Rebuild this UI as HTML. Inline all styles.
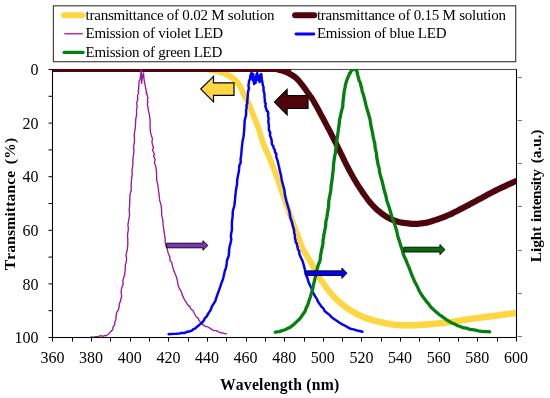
<!DOCTYPE html>
<html><head><meta charset="utf-8"><title>Spectra</title>
<style>html,body{margin:0;padding:0;background:#fff}svg{display:block}text{font-family:"Liberation Serif","Times New Roman",serif;fill:#000}</style></head><body>
<svg width="550" height="398" viewBox="0 0 550 398">
<rect width="550" height="398" fill="#fff"/>
<defs><clipPath id="pc"><rect x="52.5" y="69" width="464" height="268.5"/></clipPath></defs>
<rect x="52.5" y="69.5" width="464" height="268" fill="none" stroke="#505050" stroke-width="1.1"/>
<g clip-path="url(#pc)" fill="none" stroke-linejoin="round" stroke-linecap="round">
<g transform="scale(0.86,1)"><path d="M61.0,68.6 L74.3,68.6 L93.0,68.6 L115.3,68.6 L139.5,68.5 L164.0,68.5 L186.8,68.5 L206.4,68.6 L220.9,68.6 L230.4,68.7 L236.5,68.7 L240.0,68.8 L241.5,68.9 L242.0,69.0 L242.1,69.2 L242.5,69.3 L244.2,69.6 L246.6,69.9 L248.9,70.2 L251.0,70.6 L253.1,71.0 L255.0,71.5 L256.9,72.0 L258.7,72.5 L260.5,73.1 L262.1,73.7 L263.7,74.4 L265.2,75.1 L266.6,75.8 L268.0,76.6 L269.3,77.3 L270.5,78.1 L271.6,78.9 L272.7,79.7 L273.7,80.5 L274.6,81.3 L275.5,82.1 L276.3,82.9 L277.0,83.8 L277.8,84.7 L278.5,85.6 L279.2,86.5 L279.8,87.5 L280.3,88.5 L280.9,89.5 L281.4,90.6 L281.9,91.7 L282.5,92.8 L283.1,93.9 L283.8,95.0 L284.6,96.2 L285.3,97.4 L286.1,98.6 L286.9,99.9 L287.7,101.2 L288.4,102.5 L289.2,103.8 L289.9,105.2 L290.6,106.5 L291.3,108.0 L291.9,109.4 L292.6,110.9 L293.3,112.3 L293.9,113.9 L294.7,115.4 L295.4,117.0 L296.1,118.6 L296.9,120.2 L297.7,121.8 L298.4,123.5 L299.2,125.2 L300.0,126.9 L300.7,128.7 L301.4,130.5 L302.1,132.4 L302.8,134.3 L303.5,136.2 L304.1,138.2 L304.8,140.1 L305.6,142.1 L306.4,144.0 L307.3,145.9 L308.2,147.8 L309.1,149.7 L310.1,151.5 L311.1,153.4 L312.0,155.3 L313.0,157.3 L314.0,159.2 L314.9,161.1 L315.7,163.0 L316.6,164.8 L317.4,166.7 L318.3,168.6 L319.2,170.7 L320.2,172.9 L321.3,175.4 L322.4,178.1 L323.7,181.1 L324.9,184.3 L326.3,187.6 L327.6,190.9 L329.0,194.3 L330.3,197.7 L331.6,200.9 L332.9,204.2 L334.3,207.5 L335.7,210.9 L337.0,214.3 L338.4,217.6 L339.7,220.8 L340.9,223.7 L342.0,226.3 L343.0,228.6 L343.9,230.7 L344.8,232.5 L345.6,234.2 L346.3,235.7 L347.0,237.2 L347.7,238.6 L348.4,240.0 L349.0,241.3 L349.4,242.6 L349.8,243.7 L350.2,244.7 L350.6,245.8 L351.1,246.8 L351.6,248.0 L352.3,249.2 L353.1,250.5 L354.0,251.8 L354.9,253.2 L355.9,254.6 L357.0,256.0 L358.1,257.6 L359.3,259.3 L360.6,261.1 L361.9,263.1 L363.3,265.3 L364.8,267.6 L366.3,270.0 L367.9,272.5 L369.5,274.9 L371.2,277.3 L372.9,279.6 L374.7,281.8 L376.5,284.1 L378.3,286.3 L380.2,288.5 L382.1,290.6 L384.1,292.7 L386.2,294.8 L388.3,296.7 L390.4,298.6 L392.6,300.4 L394.9,302.2 L397.3,303.9 L399.6,305.5 L402.0,307.1 L404.3,308.5 L406.6,309.9 L408.9,311.2 L411.2,312.3 L413.5,313.4 L415.8,314.4 L418.1,315.3 L420.4,316.2 L422.7,317.0 L425.0,317.8 L427.3,318.5 L429.7,319.2 L432.1,319.8 L434.4,320.4 L436.8,320.9 L439.1,321.4 L441.3,321.9 L443.5,322.3 L445.5,322.7 L447.5,323.1 L449.3,323.4 L451.1,323.7 L453.0,324.0 L454.8,324.3 L456.7,324.5 L458.6,324.7 L460.6,324.9 L462.7,325.0 L464.8,325.1 L466.9,325.2 L469.1,325.2 L471.2,325.3 L473.4,325.3 L475.5,325.3 L477.6,325.3 L479.7,325.2 L481.8,325.2 L483.8,325.1 L485.9,325.0 L488.0,324.9 L490.1,324.8 L492.2,324.7 L494.3,324.6 L496.4,324.5 L498.5,324.3 L500.6,324.2 L502.7,324.0 L504.8,323.8 L506.9,323.7 L509.0,323.5 L511.1,323.3 L513.2,323.1 L515.3,322.9 L517.4,322.7 L519.5,322.5 L521.6,322.3 L523.7,322.0 L525.8,321.8 L527.9,321.5 L530.0,321.3 L532.1,321.0 L534.2,320.7 L536.3,320.4 L538.4,320.1 L540.5,319.8 L542.6,319.5 L544.7,319.2 L546.7,319.0 L548.8,318.7 L550.9,318.5 L553.0,318.2 L555.1,318.0 L557.2,317.7 L559.3,317.5 L561.4,317.3 L563.3,317.1 L565.3,316.9 L567.3,316.7 L569.3,316.4 L571.5,316.2 L573.7,316.0 L576.2,315.7 L579.0,315.4 L582.2,315.0 L585.6,314.6 L589.1,314.2 L592.5,313.8 L595.6,313.4 L598.1,313.1 L600.0,312.9" stroke="#FDD641" stroke-width="6.6"/></g>
<g transform="scale(0.93,1)"><path d="M56.5,69.0 L76.0,69.0 L103.8,69.0 L136.9,69.0 L172.8,69.0 L208.8,69.0 L242.2,69.0 L270.3,69.0 L290.3,69.0 L302.2,69.0 L308.4,69.1 L310.1,69.1 L308.8,69.2 L305.8,69.3 L302.2,69.4 L299.5,69.5 L298.9,69.6 L299.8,69.7 L300.7,69.9 L301.6,70.1 L302.4,70.3 L303.1,70.5 L303.9,70.7 L304.6,71.0 L305.4,71.2 L306.1,71.4 L306.7,71.6 L307.3,71.8 L307.9,72.0 L308.5,72.3 L309.2,72.6 L309.9,72.9 L310.6,73.3 L311.5,73.8 L312.4,74.2 L313.4,74.8 L314.5,75.4 L315.5,76.0 L316.5,76.6 L317.5,77.3 L318.5,78.1 L319.4,78.9 L320.3,79.8 L321.3,80.7 L322.2,81.7 L323.0,82.7 L323.9,83.7 L324.8,84.7 L325.6,85.7 L326.4,86.7 L327.2,87.7 L327.9,88.6 L328.7,89.6 L329.4,90.6 L330.1,91.6 L330.9,92.6 L331.6,93.6 L332.3,94.5 L333.0,95.4 L333.6,96.2 L334.3,97.0 L335.0,97.9 L335.7,98.9 L336.5,100.1 L337.4,101.5 L338.4,103.2 L339.6,105.0 L340.8,107.0 L342.0,109.2 L343.3,111.4 L344.6,113.7 L345.9,116.0 L347.2,118.2 L348.5,120.4 L349.8,122.7 L351.1,125.0 L352.4,127.4 L353.8,129.7 L355.1,132.0 L356.3,134.3 L357.5,136.5 L358.7,138.6 L359.8,140.7 L360.9,142.7 L362.0,144.7 L363.0,146.7 L364.1,148.6 L365.1,150.5 L366.1,152.5 L367.1,154.4 L368.1,156.3 L369.1,158.2 L370.0,160.0 L371.0,161.9 L372.0,163.8 L373.1,165.8 L374.2,167.8 L375.4,169.9 L376.7,172.1 L378.0,174.3 L379.3,176.5 L380.7,178.8 L382.2,181.1 L383.6,183.4 L385.2,185.6 L386.7,187.9 L388.4,190.2 L390.1,192.6 L391.8,194.9 L393.6,197.2 L395.3,199.4 L397.1,201.5 L398.8,203.4 L400.5,205.2 L402.2,206.8 L403.9,208.4 L405.6,209.9 L407.4,211.2 L409.1,212.5 L410.8,213.8 L412.5,214.9 L414.2,216.0 L415.8,216.9 L417.5,217.8 L419.1,218.6 L420.8,219.3 L422.5,220.0 L424.3,220.6 L426.1,221.2 L428.1,221.7 L430.2,222.2 L432.4,222.6 L434.6,222.9 L436.8,223.2 L438.8,223.4 L440.8,223.6 L442.6,223.8 L444.2,223.9 L445.6,223.9 L446.9,223.9 L448.1,223.9 L449.2,223.8 L450.3,223.7 L451.5,223.5 L452.7,223.4 L453.9,223.3 L454.9,223.2 L456.0,223.0 L457.0,222.9 L458.2,222.7 L459.4,222.4 L460.8,222.1 L462.4,221.7 L464.2,221.2 L466.3,220.6 L468.5,219.9 L470.8,219.2 L473.2,218.4 L475.6,217.6 L477.9,216.8 L480.2,215.9 L482.4,215.0 L484.7,214.1 L486.9,213.1 L489.1,212.0 L491.4,211.0 L493.6,209.9 L495.8,208.9 L498.1,207.8 L500.3,206.7 L502.5,205.6 L504.7,204.6 L506.9,203.4 L509.2,202.3 L511.4,201.2 L513.6,200.1 L515.8,199.0 L518.0,197.9 L520.2,196.8 L522.3,195.7 L524.5,194.6 L526.7,193.5 L528.9,192.4 L531.2,191.3 L533.7,190.2 L536.3,189.0 L539.3,187.7 L542.5,186.3 L545.6,184.9 L548.7,183.7 L551.4,182.5 L553.7,181.5 L555.4,180.8" stroke="#4E060C" stroke-width="6.2"/></g>
<path d="M91.1,336.8 L92.2,337.0 L94.3,337.1 L95.5,336.7 L97.9,336.7 L99.6,336.0 L101.1,335.7 L102.8,336.3 L104.6,335.5 L106.1,335.8 L107.6,334.7 L108.8,333.7 L110.4,331.9 L111.0,331.5 L112.9,329.2 L112.9,327.4 L114.6,324.7 L115.0,321.7 L115.9,319.4 L116.1,315.8 L116.8,312.1 L118.3,309.9 L119.2,306.7 L119.2,304.0 L120.3,301.6 L121.2,298.0 L121.7,295.8 L121.1,292.5 L121.5,288.9 L122.0,287.0 L123.3,283.8 L122.8,281.4 L123.6,277.6 L124.8,274.8 L124.7,272.8 L125.3,269.3 L125.3,265.1 L126.1,262.4 L126.6,258.6 L126.0,254.8 L127.2,250.3 L127.8,244.9 L127.8,239.8 L127.5,234.7 L128.4,229.5 L127.9,224.7 L128.7,220.4 L129.6,215.0 L129.2,210.1 L129.6,205.4 L129.8,199.5 L130.0,194.7 L131.2,190.1 L131.1,185.6 L131.5,180.1 L132.2,174.4 L132.0,170.2 L133.0,164.2 L132.8,159.6 L133.6,154.2 L134.0,150.4 L133.5,146.8 L134.1,143.8 L134.5,140.8 L134.4,138.0 L134.2,134.5 L135.0,129.9 L135.5,124.6 L135.7,119.3 L136.6,114.6 L136.5,110.1 L137.2,106.1 L136.5,103.4 L136.8,102.2 L137.8,99.7 L137.6,97.1 L137.5,95.0 L138.6,93.3 L138.1,90.6 L138.8,89.3 L138.6,88.0 L139.1,81.1 L139.9,80.0 L140.5,76.0 L141.4,68.8 L141.6,83.4 L142.3,78.0 L143.5,72.9 L144.0,79.0 L145.0,84.7 L146.4,92.0 L145.9,93.0 L147.1,93.5 L146.8,94.5 L147.4,96.2 L148.0,98.0 L147.5,99.6 L147.7,101.9 L147.3,104.6 L147.8,106.2 L148.5,110.8 L149.3,114.4 L150.1,119.9 L150.1,125.9 L150.3,131.2 L151.2,134.9 L152.5,139.3 L151.9,141.6 L152.5,144.8 L153.5,148.0 L152.5,149.9 L153.6,152.4 L154.4,154.4 L153.6,156.3 L154.4,158.1 L155.2,159.3 L154.4,162.4 L155.3,165.1 L156.0,167.4 L156.4,171.3 L156.6,175.2 L156.7,179.8 L157.8,184.9 L158.3,189.0 L159.1,194.5 L159.6,200.2 L161.0,204.6 L161.6,209.8 L161.7,215.4 L162.8,219.8 L163.1,225.4 L163.9,229.9 L164.2,233.0 L165.1,237.8 L165.2,242.1 L166.0,246.2 L167.3,248.9 L168.0,252.4 L169.8,256.9 L170.0,260.4 L171.9,262.9 L172.6,266.7 L173.8,270.6 L175.3,274.2 L176.4,276.8 L177.4,280.9 L178.0,284.8 L179.2,288.2 L181.2,291.3 L182.1,294.6 L183.6,297.9 L185.2,301.0 L186.2,301.9 L186.7,303.5 L188.4,305.6 L190.1,306.9 L190.9,308.9 L193.1,310.7 L194.3,313.3 L195.5,315.5 L196.4,317.0 L198.4,318.4 L199.1,320.6 L201.0,322.8 L203.1,324.9 L205.4,326.5 L207.2,326.7 L209.1,327.5 L211.8,329.6 L214.2,330.6 L216.4,330.7 L218.4,331.9 L221.0,332.8 L223.2,333.0 L225.4,333.9 L226.3,333.7" stroke="#9C189C" stroke-width="1.35"/>
<path d="M168.7,334.3 L170.5,333.9 L172.8,333.9 L176.3,333.8 L179.2,333.6 L181.7,332.8 L183.6,333.1 L185.2,332.7 L187.2,331.6 L188.4,331.9 L189.8,331.2 L191.5,330.7 L192.6,329.9 L193.4,328.9 L195.0,328.8 L196.1,327.4 L198.3,325.8 L200.1,324.2 L201.5,323.1 L203.7,320.6 L204.7,318.5 L206.9,316.1 L208.3,313.4 L210.5,310.2 L211.8,306.7 L213.4,304.1 L215.3,301.1 L216.1,298.3 L217.1,295.5 L218.3,292.2 L219.4,289.2 L220.5,286.2 L221.2,283.6 L222.5,280.5 L223.2,278.1 L224.0,274.7 L224.8,271.1 L226.1,267.3 L226.7,263.7 L227.0,260.2 L228.2,257.3 L228.9,255.2 L228.7,253.5 L229.3,252.4 L228.9,251.1 L229.4,248.5 L229.5,247.0 L229.8,245.8 L230.5,243.6 L230.6,242.5 L231.3,239.7 L231.1,238.0 L230.8,235.6 L231.3,233.1 L232.0,229.4 L231.9,226.0 L231.9,222.2 L232.6,216.6 L232.8,211.2 L234.3,206.0 L234.9,201.0 L235.4,195.2 L236.0,189.8 L237.0,184.5 L237.2,179.8 L238.0,175.6 L238.8,171.4 L239.1,168.9 L239.3,165.6 L240.7,162.8 L240.6,159.0 L241.2,155.2 L241.5,151.1 L242.0,145.9 L242.6,140.9 L243.6,136.2 L244.1,131.1 L244.4,125.7 L244.7,120.2 L246.1,114.7 L246.1,110.6 L246.7,107.6 L246.4,105.5 L247.3,103.5 L247.2,101.5 L247.5,99.0 L247.7,96.8 L247.9,93.3 L248.3,90.6 L249.0,88.1 L248.4,85.8 L248.9,83.0 L249.0,81.2 L250.0,78.8 L250.3,77.4 L250.3,76.0 L251.5,73.0 L252.6,80.0 L253.2,74.0 L254.0,84.0 L254.8,78.0 L255.6,83.0 L256.4,75.0 L257.2,73.0 L258.0,80.0 L258.8,76.0 L259.6,82.0 L260.4,75.0 L261.2,74.0 L262.0,80.0 L262.9,85.4 L263.6,87.3 L263.5,90.1 L264.4,93.8 L264.5,97.1 L264.9,100.1 L264.8,102.1 L265.9,103.9 L265.2,105.8 L265.8,107.4 L266.3,109.4 L267.0,110.7 L266.8,111.2 L267.9,111.5 L268.3,113.3 L267.9,115.2 L268.6,118.3 L268.3,121.6 L268.9,125.4 L268.9,129.9 L270.2,132.6 L270.0,135.7 L271.0,137.8 L271.3,139.1 L271.8,141.2 L271.7,142.2 L272.1,144.7 L273.3,146.0 L273.5,147.9 L274.7,149.6 L274.9,151.5 L275.5,153.0 L276.3,153.5 L276.3,154.9 L276.3,157.1 L276.9,158.7 L277.9,161.9 L278.5,164.7 L279.3,168.0 L279.9,171.4 L281.0,175.2 L281.8,180.4 L283.1,185.2 L284.4,189.8 L285.0,195.3 L286.4,201.0 L287.8,206.0 L289.4,211.5 L290.3,217.3 L291.9,221.8 L293.0,226.7 L294.1,230.1 L294.1,232.9 L294.9,235.1 L294.8,237.6 L295.6,240.3 L295.8,242.6 L296.9,243.4 L296.9,245.2 L297.7,247.5 L297.9,249.5 L299.1,250.8 L299.3,253.7 L300.1,255.8 L301.2,258.3 L302.5,260.9 L303.7,264.8 L304.8,269.1 L305.6,274.1 L307.5,278.1 L308.5,282.0 L310.3,286.0 L311.8,289.0 L312.7,291.9 L314.1,294.4 L315.0,296.3 L316.9,298.9 L318.0,301.8 L320.0,304.4 L321.4,306.7 L323.6,308.7 L324.8,311.3 L326.8,312.7 L329.5,314.9 L331.6,317.1 L334.0,319.0 L336.7,320.8 L338.9,322.3 L341.9,324.2 L344.3,325.3 L347.5,327.1 L350.4,328.8 L353.5,329.4 L357.1,330.5 L360.7,331.3 L362.4,331.8" stroke="#0000FF" stroke-width="2.45"/>
<path d="M275.3,332.3 L276.7,331.8 L279.2,331.6 L281.4,330.9 L284.4,330.0 L286.4,329.1 L288.4,328.0 L290.4,327.2 L292.0,325.8 L293.7,324.6 L295.4,322.9 L297.3,321.1 L299.6,319.0 L301.3,316.8 L303.0,314.2 L305.1,311.3 L306.3,307.8 L307.8,304.7 L309.0,300.8 L310.4,296.8 L311.5,292.9 L312.7,288.7 L313.6,284.1 L314.7,280.0 L315.6,275.9 L316.6,271.9 L317.4,268.0 L318.3,264.7 L319.5,262.1 L320.3,259.1 L320.5,255.9 L321.1,252.7 L321.7,249.2 L322.5,246.3 L323.0,242.9 L323.0,239.8 L323.8,237.3 L323.8,234.7 L324.4,232.7 L324.9,229.6 L325.6,226.4 L325.8,222.0 L326.9,217.1 L327.7,211.7 L328.6,206.4 L328.8,200.8 L329.8,195.7 L330.8,190.2 L331.2,185.1 L332.1,179.8 L332.5,175.6 L333.1,171.3 L333.4,168.0 L333.5,165.0 L333.9,161.8 L334.3,158.8 L334.7,156.2 L335.4,153.1 L335.6,150.2 L336.1,147.5 L336.3,144.0 L336.9,140.3 L337.5,136.3 L338.1,131.9 L338.7,127.5 L339.3,123.3 L339.5,119.9 L340.4,116.5 L341.0,113.1 L342.0,109.4 L342.8,106.1 L342.9,102.5 L343.4,98.1 L343.9,94.2 L344.3,90.6 L345.1,87.4 L345.4,84.9 L346.2,82.2 L346.8,80.3 L347.6,78.2 L348.4,76.4 L349.1,74.8 L349.4,73.5 L350.5,72.6 L350.9,71.4 L351.4,70.6 L352.0,70.1 L352.4,70.0 L353.0,69.6 L353.0,69.4 L353.1,69.4 L354.0,69.2 L353.9,69.3 L354.5,69.5 L355.0,69.3 L355.2,69.5 L355.5,69.4 L356.0,69.8 L355.9,70.0 L356.5,70.4 L356.8,71.5 L357.3,72.2 L357.5,73.2 L357.3,73.8 L357.6,75.1 L358.1,76.6 L358.6,77.7 L358.8,79.4 L359.3,81.0 L360.1,82.1 L360.7,84.1 L360.9,86.0 L361.7,87.7 L361.9,89.7 L362.3,91.8 L363.1,93.8 L363.7,95.9 L364.4,98.5 L365.0,101.0 L365.5,102.9 L366.2,106.2 L367.0,109.1 L368.0,112.2 L369.0,115.8 L370.1,119.8 L370.6,123.4 L371.3,127.5 L372.3,131.7 L373.1,136.3 L373.9,140.2 L374.9,143.9 L375.1,147.6 L375.8,150.7 L376.5,153.4 L376.6,156.0 L377.1,159.4 L377.7,162.2 L378.2,165.3 L379.2,168.3 L379.5,171.6 L380.4,175.5 L381.8,180.1 L383.0,184.9 L384.2,190.3 L385.8,195.4 L386.8,200.8 L388.8,206.2 L390.2,211.0 L391.8,216.5 L393.7,221.6 L395.2,226.1 L396.8,231.3 L397.7,235.9 L399.3,240.8 L400.5,244.9 L402.0,249.3 L403.1,253.4 L404.4,256.8 L406.1,260.3 L407.4,263.9 L409.1,267.6 L410.3,270.9 L411.7,274.8 L413.2,278.0 L414.6,281.7 L416.4,284.7 L417.9,287.9 L419.4,291.2 L420.9,293.8 L422.9,296.7 L424.8,299.2 L426.7,301.8 L428.8,304.0 L430.4,306.6 L432.6,308.7 L434.8,310.7 L436.9,312.6 L439.1,314.5 L441.5,316.1 L443.9,317.8 L446.3,319.7 L448.9,321.3 L451.8,322.9 L454.7,324.1 L457.8,325.7 L460.9,326.7 L463.8,327.9 L466.9,328.2 L469.5,329.3 L472.4,329.7 L475.4,330.2 L478.5,330.8 L481.8,331.3 L485.0,331.6 L487.8,331.6 L489.7,331.9" stroke="#058010" stroke-width="3.3"/>
</g>
<g stroke="#000" stroke-width="1" fill="none">
<path d="M52.5,69.5 V337.5 H516.5"/>
<path d="M516.5,69.5 V337.5"/>
<path d="M48.5,69.5 H52.5 M48.5,96.3 H52.5 M48.5,123.1 H52.5 M48.5,149.9 H52.5 M48.5,176.7 H52.5 M48.5,203.5 H52.5 M48.5,230.3 H52.5 M48.5,257.1 H52.5 M48.5,283.9 H52.5 M48.5,310.7 H52.5 M48.5,337.5 H52.5 M52.5,337.5 V341.5 M72.5,337.5 V341.5 M91.5,337.5 V341.5 M110.5,337.5 V341.5 M130.5,337.5 V341.5 M149.5,337.5 V341.5 M168.5,337.5 V341.5 M188.5,337.5 V341.5 M207.5,337.5 V341.5 M226.5,337.5 V341.5 M246.5,337.5 V341.5 M265.5,337.5 V341.5 M284.5,337.5 V341.5 M304.5,337.5 V341.5 M323.5,337.5 V341.5 M342.5,337.5 V341.5 M361.5,337.5 V341.5 M381.5,337.5 V341.5 M400.5,337.5 V341.5 M419.5,337.5 V341.5 M439.5,337.5 V341.5 M458.5,337.5 V341.5 M477.5,337.5 V341.5 M497.5,337.5 V341.5 M516.5,337.5 V341.5"/>
<path d="M517.5,77.5 H522 M517.5,120.5 H522 M517.5,163.5 H522 M517.5,206.5 H522 M517.5,250.5 H522 M517.5,293.5 H522 M517.5,336.5 H522" stroke="#777"/>
</g>
<g font-size="16" text-anchor="end">
<text x="38.6" y="75.1">0</text>
<text x="38.6" y="128.7">20</text>
<text x="38.6" y="182.3">40</text>
<text x="38.6" y="235.9">60</text>
<text x="38.6" y="289.5">80</text>
<text x="38.6" y="343.1">100</text>
</g>
<g font-size="16" text-anchor="middle">
<text x="52.5" y="362.6">360</text>
<text x="91.1" y="362.6">380</text>
<text x="129.7" y="362.6">400</text>
<text x="168.4" y="362.6">420</text>
<text x="207.0" y="362.6">440</text>
<text x="245.6" y="362.6">460</text>
<text x="284.2" y="362.6">480</text>
<text x="322.8" y="362.6">500</text>
<text x="361.5" y="362.6">520</text>
<text x="400.1" y="362.6">540</text>
<text x="438.7" y="362.6">560</text>
<text x="477.3" y="362.6">580</text>
<text x="515.9" y="362.6">600</text>
</g>
<text x="219.9" y="390.1" font-size="15.7" font-weight="bold" style="font-kerning:none" textLength="119.3" lengthAdjust="spacing">Wavelength (nm)</text>
<text transform="translate(15.3,270.3) rotate(-90)" font-size="15.6" font-weight="bold" style="font-kerning:none"><tspan x="0" textLength="99.6" lengthAdjust="spacing">Transmittance</tspan><tspan x="106.1" textLength="26.4" lengthAdjust="spacing">(%)</tspan></text>
<text transform="translate(540.8,262.3) rotate(-90)" font-size="15.4" font-weight="bold" style="font-kerning:none"><tspan x="0" textLength="35.8" lengthAdjust="spacing">Light</tspan><tspan x="40.4" textLength="52.9" lengthAdjust="spacing">intensity</tspan><tspan x="99" textLength="33.6" lengthAdjust="spacing">(a.u.)</tspan></text>
<rect x="53.4" y="5.8" width="462.3" height="55.9" fill="#fff" stroke="#444" stroke-width="1.2"/>
<g stroke-linecap="round" fill="none">
<path d="M64.2,15.3 H82.1" stroke="#FDD641" stroke-width="6"/>
<path d="M64.3,33.7 H82.8" stroke="#A838B0" stroke-width="1.6" stroke-linecap="butt"/>
<path d="M64.2,52.4 H83" stroke="#058010" stroke-width="3.3"/>
<path d="M295.1,15.2 H314.2" stroke="#4E060C" stroke-width="6"/>
<path d="M296,34 H313.9" stroke="#0000FF" stroke-width="2.8"/>
</g>
<g font-size="15" lengthAdjust="spacing">
<text x="85.5" y="20" textLength="189.0">transmittance of 0.02 M solution</text>
<text x="85.5" y="38.2" textLength="137.7">Emission of violet LED</text>
<text x="85.5" y="57" textLength="136.8">Emission of green LED</text>
<text x="316.9" y="20" textLength="189.0">transmittance of 0.15 M solution</text>
<text x="316.9" y="38.2" textLength="129.6">Emission of blue LED</text>
</g>
<g stroke="#000" stroke-width="1.2" stroke-linejoin="miter">
<path d="M234,82.89999999999999 L213.5,82.89999999999999 L213.5,76.39999999999999 L200.8,89.1 L213.5,101.8 L213.5,95.3 L234,95.3 Z" fill="#FDD641"/>
<path d="M308,95.69999999999999 L287.1,95.69999999999999 L287.1,89.39999999999999 L274.4,102.1 L287.1,114.8 L287.1,108.5 L308,108.5 Z" fill="#4E060C"/>
</g><g stroke="#000" stroke-width="0.9" stroke-linejoin="miter">
<path d="M166.6,243.2 L202.9,243.2 L202.9,240.7 L207.9,245.5 L202.9,250.3 L202.9,247.8 L166.6,247.8 Z" fill="#7B35B5"/>
<path d="M306.4,270.84999999999997 L341.9,270.84999999999997 L341.9,268.0 L347.0,273.2 L341.9,278.4 L341.9,275.55 L306.4,275.55 Z" fill="#0000FF"/>
<path d="M403.8,247.2 L439.9,247.2 L439.9,244.5 L445.0,249.6 L439.9,254.7 L439.9,252.0 L403.8,252.0 Z" fill="#0A6B0A"/>
</g>
</svg></body></html>
